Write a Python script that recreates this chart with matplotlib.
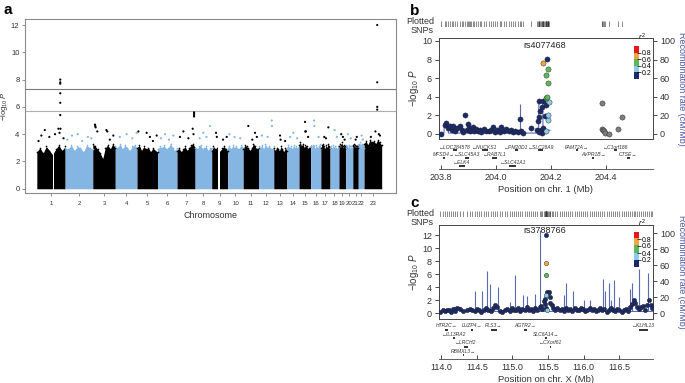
import numpy as np
import matplotlib
matplotlib.use("Agg")
import matplotlib.pyplot as plt

plt.rcParams['font.family'] = ['Liberation Sans', 'DejaVu Sans']
plt.rcParams['mathtext.fontset'] = 'custom'
plt.rcParams['mathtext.rm'] = 'Liberation Sans'
plt.rcParams['mathtext.it'] = 'Liberation Sans:italic'

# ---------------- Panel a : Manhattan plot ----------------
chrom_labels = [str(i) for i in range(1, 24)]
chrom_len_mb = [249, 243, 198, 191, 181, 171, 159, 146, 141, 136, 135, 134,
                115, 107, 102, 90, 81, 78, 59, 63, 48, 51, 155]
body_top = [
    [2.7, 3.0, 2.6, 3.1, 2.8, 2.5, 2.9, 3.2, 2.8, 3.1],
    [3.0, 2.9, 3.2, 2.8, 3.1, 3.0, 2.7, 3.2, 3.0, 2.9],
    [3.3, 3.1, 2.9, 2.6, 2.2, 3.0, 3.2, 2.9, 3.3, 3.0],
    [3.1, 3.0, 3.3, 2.9, 3.2, 3.0, 2.8, 3.1, 3.2, 3.0],
    [3.0, 3.2, 2.8, 3.1, 2.9, 3.0, 2.7, 3.0, 2.8, 2.7],
    [2.9, 3.1, 3.0, 3.2, 2.9, 3.0, 3.3, 3.0, 2.8, 3.0],
    [2.8, 3.0, 2.7, 2.9, 3.1, 2.8, 3.0, 3.2, 3.3, 3.0],
    [3.0, 2.9, 3.1, 3.2, 2.9, 3.0, 3.1, 2.8, 3.0, 3.0],
    [2.8, 3.1, 2.9, 3.0, 2.7, 2.8, 3.0, 3.1, 2.9, 2.8],
    [3.0, 3.1, 2.9, 3.2, 3.0, 3.1, 2.9, 3.0, 3.2, 3.0],
    [2.9, 3.2, 3.1, 3.0, 2.8, 3.0, 3.3, 3.1, 2.9, 3.0],
    [3.1, 3.0, 3.2, 2.9, 3.3, 3.0, 3.1, 3.0, 2.9, 3.1],
    [3.0, 2.8, 3.0, 2.9, 2.8, 3.1, 2.9, 2.7, 3.0, 2.8],
    [3.0, 3.2, 3.0, 3.1, 2.9, 3.2, 3.0, 3.1, 3.0, 3.2],
    [3.2, 3.4, 3.1, 3.3, 3.0, 3.2, 3.1, 2.9, 3.0, 3.1],
    [3.1, 3.0, 3.2, 3.1, 2.9, 3.2, 3.0, 3.1, 3.3, 3.0],
    [3.0, 3.2, 3.3, 3.1, 2.9, 3.2, 3.0, 3.3, 3.1, 3.0],
    [3.0, 3.1, 2.9, 3.2, 3.0, 3.1, 3.0, 2.9, 3.1, 3.0],
    [3.1, 3.3, 3.0, 3.2, 3.4, 3.1, 3.0, 3.2, 3.1, 3.0],
    [3.0, 3.2, 3.1, 3.0, 3.2, 3.1, 2.9, 3.1, 3.0, 3.1],
    [3.2, 3.1, 3.3, 3.0, 3.2, 3.1, 3.0, 3.1, 3.2, 3.0],
    [3.2, 3.3, 3.1, 3.4, 3.2, 3.0, 3.3, 3.2, 3.1, 3.0],
    [3.3, 3.5, 3.2, 3.6, 3.4, 3.5, 3.3, 3.6, 3.4, 3.2],
]
gap_chr = [1, 9]
gap_start = [140, 58]
gap_end = [147, 72]

hit_chr = [1, 1, 1, 1, 1, 1, 1, 1, 1, 1, 1, 1, 1, 1, 1,
           2, 2, 2, 2, 2, 2,
           3, 3, 3, 3, 3, 3, 3, 3,
           4, 4, 4, 4,
           5, 5, 5, 5, 5,
           6, 6, 6, 6,
           7, 7, 7, 7, 7, 7, 7, 7, 7,
           8, 8, 8, 8,
           9, 9, 9, 9,
           10, 10, 10,
           11, 11, 11, 11,
           12, 12, 12, 12,
           13, 13, 13,
           14, 14, 14,
           15, 15, 15, 15,
           16, 16, 16,
           17, 17, 17,
           18, 18,
           19, 19, 19,
           20, 20,
           21, 21,
           22, 22,
           23, 23, 23, 23, 23, 23, 23, 23]
hit_pos = [15, 40, 70, 110, 160, 190, 200, 206, 206, 206, 206, 206, 206, 208, 235,
           20, 60, 110, 150, 200, 230,
           20, 22, 25, 40, 120, 128, 181, 150,
           40, 100, 188, 150,
           12, 85, 114, 173, 140,
           30, 66, 139, 100,
           26, 56, 100, 138, 145, 150, 150, 150, 150,
           40, 72, 131, 100,
           38, 45, 100, 132,
           15, 60, 110,
           45, 104, 120, 80,
           30, 116, 118, 80,
           55, 60, 100,
           57, 30, 90,
           53, 55, 60, 80,
           30, 33, 70,
           66, 30, 45,
           40, 60,
           20, 35, 50,
           20, 45,
           25, 35,
           30, 40,
           116, 116, 116, 116, 60, 100, 130, 140]
hit_logp = [3.5, 3.9, 4.3, 3.8, 4.0, 4.4, 4.1, 8.0, 7.8, 7.7, 7.0, 6.3, 5.4, 4.4, 3.7,
            3.6, 3.9, 4.0, 3.5, 3.8, 3.7,
            4.7, 4.6, 4.5, 4.2, 4.3, 4.2, 3.9, 3.6,
            3.8, 4.0, 4.1, 3.7,
            4.2, 4.1, 3.8, 3.9, 3.5,
            3.7, 4.0, 3.9, 3.6,
            3.8, 4.2, 3.7, 4.4, 4.0, 5.6, 5.5, 5.4, 5.3,
            3.7, 4.1, 4.6, 3.8,
            4.1, 3.8, 3.6, 3.8,
            4.0, 3.8, 3.7,
            4.6, 4.1, 3.8, 3.6,
            3.9, 5.0, 4.6, 3.8,
            3.9, 3.6, 3.5,
            4.1, 3.8, 3.7,
            4.9, 4.2, 4.2, 3.8,
            5.0, 4.6, 3.8,
            4.5, 3.8, 3.7,
            4.3, 3.8,
            4.0, 3.8, 3.6,
            4.0, 3.7,
            3.6, 3.8,
            3.9, 3.6,
            12.0, 7.8, 6.0, 5.8, 3.8, 4.2, 4.0, 3.9]
genome_wide_line = 7.3
suggestive_line = 5.7

# ---------------- Panel b : locus chr1 ----------------
b_navy_pos = [203.802, 203.814, 203.820, 203.827, 203.833, 203.839, 203.845, 203.851, 203.857, 203.869,
              203.875, 203.881, 203.887, 203.893, 203.899, 203.902, 203.905, 203.911, 203.917, 203.920,
              203.929, 203.935, 203.941, 203.947, 203.955, 203.965, 203.975, 203.983, 203.989, 203.998,
              204.005, 204.013, 204.019, 204.028, 204.037, 204.046, 204.053, 204.061, 204.071, 204.080,
              204.086, 204.092, 204.100, 204.128,
              204.148, 204.152, 204.155, 204.158, 204.162, 204.164, 204.166, 204.168, 204.170, 204.176,
              204.178, 204.182, 204.158, 204.172, 204.186]
b_navy_logp = [0.0, 1.0, 1.18, 0.64, 0.82, 0.46, 0.9, 0.29, 0.64, 0.82,
               0.46, 0.18, 2.07, 0.46, 1.07, 0.64, 0.36, 0.46, 0.75, 0.29,
               0.54, 0.36, 0.46, 0.21, 0.54, 0.36, 0.29, 0.46, 0.71, 0.21,
               0.46, 0.18, 0.71, 0.36, 0.54, 0.29, 0.46, 0.18, 0.36, 0.21,
               1.6, 0.29, 0.1, 0.64,
               0.46, 1.36, 1.82, 3.5, 2.43, 0.46, 0.1, 2.9, 0.64, 0.29,
               1.9, 3.14, 0.18, 3.5, 8.04]
b_lblue_pos = [204.192, 204.190, 204.188, 204.183]
b_lblue_logp = [3.4, 1.46, 2.0, 0.3]
b_green_pos = [204.189, 204.182, 204.188, 204.182, 204.187]
b_green_logp = [6.96, 6.36, 5.46, 3.86, 3.93]
b_orange_pos = [204.172]
b_orange_logp = [7.68]
b_gray_pos = [204.387, 204.387, 204.390, 204.393, 204.396, 204.411, 204.445, 204.457]
b_gray_logp = [3.32, 0.54, 0.39, 0.29, 0.1, 0.04, 0.54, 1.82]
b_rec_pos = [203.797, 203.811, 203.812, 203.826, 203.827, 204.155, 204.156, 204.170, 204.171, 204.196]
b_rec_rate = [1, 1, 9, 9, 1, 1, 36, 36, 4, 4]
b_spike_pos = [204.086]
b_spike_rate = [32]
b_lead = 'rs4077468'
b_ticks = [203.8, 204.0, 204.2, 204.4]
b_gene_names = ['LOC284578', 'NUCKS1', 'PM20D1', 'SLC26A9', 'FAM72A', 'C1orf186',
                'MFSD4', 'SLC45A3', 'RAB7L1', 'AVPR1B', 'CTSE', 'ELK4', 'SLC41A1']
b_gene_strand = [-1, -1, -1, -1, 1, -1, 1, -1, -1, 1, 1, -1, -1]
b_gene_row = [0, 0, 0, 0, 0, 0, 1, 1, 1, 1, 1, 2, 2]
b_gene_start = [203.845, 203.950, 204.068, 204.154, 204.290, 204.428, 203.806, 203.888,
                203.987, 204.350, 204.475, 203.866, 204.048]
b_gene_end = [203.858, 203.970, 204.082, 204.172, 204.297, 204.440, 203.816, 203.902,
              204.004, 204.358, 204.487, 203.886, 204.074]

# ---------------- Panel c : locus chrX ----------------
c_navy_pos = [113.99, 114.02, 114.05, 114.08, 114.11, 114.14, 114.16, 114.19, 114.22, 114.26,
              114.30, 114.36, 114.40, 114.43, 114.47, 114.50, 114.53, 114.56, 114.60, 114.63,
              114.66, 114.70, 114.73, 114.76, 114.78, 114.82, 114.86, 114.90, 114.93, 114.96,
              114.99, 115.02, 115.05, 115.08, 115.11, 115.14, 115.17, 115.20, 115.23, 115.26,
              115.29, 115.32, 115.35, 115.38, 115.40, 115.42, 115.44, 115.45, 115.46, 115.47,
              115.49, 115.50, 115.51, 115.52, 115.53, 115.55, 115.57, 115.60, 115.63, 115.66,
              115.69, 115.72, 115.75, 115.78, 115.81, 115.84, 115.87, 115.90, 115.93, 115.96,
              115.99, 116.02, 116.05, 116.08, 116.11, 116.14, 116.17, 116.20, 116.23, 116.26,
              116.29, 116.32, 116.35, 116.38, 116.41, 116.44, 116.47, 116.50, 116.53, 116.56,
              116.59, 116.62, 116.65, 116.68, 116.70, 116.72, 116.74, 116.77, 116.80, 116.83,
              116.86, 116.89, 116.92, 116.94, 116.96, 115.477]
c_navy_logp = [0.2, 0.4, 0.3, 0.5, 0.4, 0.2, 0.6, 0.3, 0.7, 0.6,
               0.3, 0.5, 0.6, 0.4, 0.3, 0.6, 0.5, 0.2, 0.5, 0.7,
               0.4, 0.3, 0.8, 1.3, 1.0, 0.3, 0.2, 0.5, 0.6, 0.3,
               0.7, 0.5, 0.4, 0.8, 0.3, 0.6, 0.5, 0.9, 0.4, 0.6,
               0.3, 0.7, 0.5, 0.9, 1.1, 0.6, 1.8, 2.2, 1.4, 0.8,
               3.3, 3.1, 3.2, 2.4, 1.6, 1.2, 0.8, 0.5, 0.7, 0.4,
               0.6, 0.3, 0.8, 0.5, 0.6, 0.3, 0.7, 0.5, 0.4, 0.8,
               0.6, 0.3, 0.5, 0.7, 0.4, 0.6, 0.3, 0.5, 0.8, 0.4,
               0.6, 0.2, 0.5, 0.7, 0.4, 0.3, 0.6, 0.5, 0.2, 0.4,
               0.6, 0.3, 0.9, 1.4, 2.0, 1.6, 1.0, 0.6, 0.9, 1.1,
               0.5, 1.2, 2.0, 1.3, 0.7, 12.0]
c_lblue_pos = [115.470, 115.485]
c_lblue_logp = [2.8, 0.5]
c_green_pos = [115.477]
c_green_logp = [5.85]
c_orange_pos = [115.477]
c_orange_logp = [7.76]
c_rec_pos = [113.98, 114.18, 114.185, 114.27, 114.275, 116.97]
c_rec_rate = [2, 2, 7, 7, 2, 2]
c_spike_pos = [114.47, 114.57, 114.64, 114.68, 114.80, 114.97, 115.04, 115.15, 115.20, 115.32,
               115.39, 115.72, 115.75, 115.85, 116.00, 116.08, 116.27, 116.30, 116.35, 116.38,
               116.42, 116.50, 116.65, 116.68, 116.77, 116.90]
c_spike_rate = [27, 28, 53, 36, 33, 14, 47, 23, 21, 24,
                104, 23, 37, 27, 16, 16, 42, 27, 37, 16,
                41, 20, 30, 37, 55, 50]
c_lead = 'rs3788766'
c_ticks = [114.0, 114.5, 115.0, 115.5, 116.0, 116.5]
c_gene_names = ['HTR2C', 'LUZP4', 'PLS3', 'AGTR2', 'KLHL13', 'IL13RA2', 'SLC6A14',
                'LRCH2', 'CXorf61', 'RBMXL3']
c_gene_strand = [1, 1, 1, 1, -1, -1, 1, -1, -1, 1]
c_gene_row = [0, 0, 0, 0, 0, 1, 1, 2, 2, 3]
c_gene_start = [114.05, 114.42, 114.70, 115.16, 116.78, 114.17, 115.45, 114.32, 115.52, 114.30]
c_gene_end = [114.10, 114.45, 114.78, 115.20, 116.90, 114.19, 115.48, 114.38, 115.54, 114.32]

ld_labels = ['0.2', '0.4', '0.6', '0.8']

# ---------------- styling ----------------
BLACK = '#000000'
BLUE = '#85b6e3'
NAVY = '#1b2a6b'
LBLUE = '#8ccbea'
GREEN = '#5cb85c'
ORANGE = '#f2a541'
RED = '#e31a1c'
GRAY = '#7d7d7d'
REC = '#5a6ab4'
ld_colors = [NAVY, LBLUE, GREEN, ORANGE, RED]

W, H = 685, 383
fig = plt.figure(figsize=(6.85, 3.83), dpi=100)


def rect(x0, y0, x1, y1):
    return [x0 / W, 1 - y1 / H, (x1 - x0) / W, (y1 - y0) / H]


# ----- panel a -----
axa = fig.add_axes(rect(25, 19, 396, 193))
cum = np.concatenate([[0], np.cumsum(chrom_len_mb)[:-1]])
centers = cum + np.array(chrom_len_mb) / 2.0
for i, (L, h) in enumerate(zip(chrom_len_mb, body_top)):
    col = BLACK if i % 2 == 0 else BLUE
    x = cum[i] + np.linspace(0, L, len(h))
    axa.fill_between(x, 0, h, color=col, lw=0, zorder=2)
    axa.scatter(x, h, s=1.5, color=col, lw=0, zorder=3)
for c, s, e in zip(gap_chr, gap_start, gap_end):
    axa.fill_between([cum[c - 1] + s, cum[c - 1] + e], -0.2, 4.0, color='white', lw=0, zorder=4)
hx = np.array([cum[c - 1] + p for c, p in zip(hit_chr, hit_pos)])
hc = [BLACK if c % 2 == 1 else BLUE for c in hit_chr]
axa.scatter(hx, hit_logp, s=2.5, c=hc, lw=0, zorder=5)
axa.axhline(genome_wide_line, color='#7a7a7a', lw=0.8, zorder=1)
axa.axhline(suggestive_line, color='#b0b0b0', lw=0.8, zorder=1)
axa.set_xlim(-104, 3159)
axa.set_ylim(-0.31, 12.44)
axa.set_xticks(centers)
axa.set_xticklabels(chrom_labels, fontsize=4.4)
axa.set_yticks([0, 2, 4, 6, 8, 10, 12])
axa.tick_params(axis='both', labelsize=5.5, length=2, width=0.5, color='#666', pad=2, labelcolor='#333')
axa.tick_params(axis='x', labelsize=4.4, pad=4)
for sp in axa.spines.values():
    sp.set_color('#8a8a8a')
    sp.set_linewidth(0.8)
axa.set_xlabel('Chromosome', fontsize=6.5, labelpad=3, color='#333')
axa.set_ylabel(r'$-$log$_{10}$ $P$', fontsize=5.5, labelpad=1, color='#333')

fig.text(3 / W, 1 - 10 / H, 'a', fontsize=11, fontweight='bold', va='center', ha='left')
fig.text(410 / W, 1 - 11 / H, 'b', fontsize=11, fontweight='bold', va='center', ha='left')
fig.text(410 / W, 1 - 203 / H, 'c', fontsize=11, fontweight='bold', va='center', ha='left')


def locus(box, genebox, rugbox, cbbox, xlim, ylim, ratio, yticks, groups, rec_pos, rec_rate,
          spike_pos, spike_rate, lead, lead_xy, ticks, xlabel, genes, rows_y, label_y, msize):
    ax = fig.add_axes(rect(*box))
    ax2 = ax.twinx()
    ax.set_zorder(ax2.get_zorder() + 1)
    ax.patch.set_visible(False)
    # recombination
    ax2.plot(rec_pos, rec_rate, color=REC, lw=0.8)
    ax2.vlines(spike_pos, rec_rate[-1], spike_rate, color=REC, lw=0.8)
    ax2.set_ylim(ylim[0] * ratio, ylim[1] * ratio)
    ax2.set_yticks([0, 20, 40, 60, 80, 100])
    ax2.tick_params(labelsize=6.5, length=3, width=0.5, pad=2, labelcolor='#333')
    ax2.set_ylabel('Recombination rate (cM/Mb)', rotation=270, fontsize=6.5,
                   color='#4a58a0', labelpad=8)
    # points
    all_pos = []
    for pos, lp, col in groups:
        ax.scatter(pos, lp, s=msize, color=col, edgecolor='#222', lw=0.3, zorder=3)
        all_pos += list(pos)
    ax.set_xlim(*xlim)
    ax.set_ylim(*ylim)
    ax.set_xticks([])
    ax.set_yticks(yticks)
    ax.tick_params(labelsize=6.5, length=3, width=0.5, pad=2, labelcolor='#333')
    ax.set_ylabel(r'$-$log$_{10}$ $P$', fontsize=7, labelpad=1, color='#333')
    for a in (ax, ax2):
        for sp in a.spines.values():
            sp.set_linewidth(0.6)
            sp.set_color('#444')
    ax.text(lead_xy[0], lead_xy[1], lead, fontsize=6.5, ha='center', va='center', color='#222')
    # gene track
    ag = fig.add_axes(rect(*genebox))
    ag.set_xlim(*xlim)
    ag.set_ylim(0, 1)
    for k in ('top', 'left', 'right'):
        ag.spines[k].set_visible(False)
    ag.spines['bottom'].set_linewidth(0.6)
    ag.spines['bottom'].set_color('#444')
    ag.set_yticks([])
    ag.set_xticks(ticks)
    ag.set_xticklabels([f'{t:.1f}' for t in ticks])
    ag.tick_params(axis='x', labelsize=6.5, length=3, width=0.5, direction='in', pad=3,
                   labelcolor='#333')
    ag.set_xlabel(xlabel, fontsize=6.8, labelpad=2, color='#333')
    names, strand, row, gs, ge = genes
    for n, st, r, s0, e0 in zip(names, strand, row, gs, ge):
        y = rows_y[r]
        lbl = (n + '\u2192') if st > 0 else ('\u2190' + n)
        ag.text((s0 + e0) / 2, y, lbl, fontsize=3.6, style='italic', ha='center', va='center',
                color='#333')
        ag.plot([s0, e0], [y - 0.11, y - 0.11], color='#222', lw=1.3, solid_capstyle='butt')
    # rug
    ar = fig.add_axes(rect(*rugbox))
    ar.set_xlim(*xlim)
    ar.set_ylim(0, 1)
    ar.axis('off')
    ar.vlines(all_pos, 0, 1, color='#333', lw=0.4)
    fig.text(434 / W, 1 - label_y / H, 'Plotted\nSNPs', fontsize=6.5, ha='right', va='center',
             linespacing=1.0, color='#333')
    # LD legend
    ac = fig.add_axes(rect(*cbbox))
    ac.imshow(np.arange(5)[::-1].reshape(5, 1), cmap=matplotlib.colors.ListedColormap(ld_colors),
              aspect='auto', extent=[0, 1, 0, 1], interpolation='nearest')
    ac.set_xticks([])
    ac.yaxis.tick_right()
    ac.set_yticks([0.2, 0.4, 0.6, 0.8])
    ac.set_yticklabels(ld_labels)
    ac.tick_params(axis='y', labelsize=5, length=2.5, width=0.5, pad=1, direction='inout')
    for sp in ac.spines.values():
        sp.set_visible(False)
    ac.text(0.9, 1.08, r'$r^2$', fontsize=5.5, transform=ac.transAxes, ha='left', va='bottom')
    return ax


locus(box=(439, 38, 653, 139), genebox=(439, 141, 653, 169), rugbox=(439, 21, 653, 27),
      cbbox=(634, 46, 639, 79), xlim=(203.793, 204.571), ylim=(-0.54, 10.32), ratio=10.0,
      yticks=[0, 2, 4, 6, 8, 10],
      groups=[(b_navy_pos, b_navy_logp, NAVY), (b_gray_pos, b_gray_logp, GRAY),
              (b_lblue_pos, b_lblue_logp, LBLUE), (b_green_pos, b_green_logp, GREEN),
              (b_orange_pos, b_orange_logp, ORANGE)],
      rec_pos=b_rec_pos, rec_rate=b_rec_rate, spike_pos=b_spike_pos, spike_rate=b_spike_rate,
      lead=b_lead, lead_xy=(204.176, 9.55), ticks=b_ticks, xlabel='Position on chr. 1 (Mb)',
      genes=(b_gene_names, b_gene_strand, b_gene_row, b_gene_start, b_gene_end),
      rows_y=[0.78, 0.50, 0.22], label_y=26, msize=14)

locus(box=(439, 225, 653, 319), genebox=(439, 320, 653, 359), rugbox=(439, 211, 653, 217),
      cbbox=(634, 232, 639, 267), xlim=(113.97, 116.97), ylim=(-0.92, 13.54), ratio=8.13,
      yticks=[0, 2, 4, 6, 8, 10, 12],
      groups=[(c_navy_pos, c_navy_logp, NAVY), (c_lblue_pos, c_lblue_logp, LBLUE),
              (c_green_pos, c_green_logp, GREEN), (c_orange_pos, c_orange_logp, ORANGE)],
      rec_pos=c_rec_pos, rec_rate=c_rec_rate, spike_pos=c_spike_pos, spike_rate=c_spike_rate,
      lead=c_lead, lead_xy=(115.45, 12.75), ticks=c_ticks, xlabel='Position on chr. X (Mb)',
      genes=(c_gene_names, c_gene_strand, c_gene_row, c_gene_start, c_gene_end),
      rows_y=[0.86, 0.64, 0.42, 0.20], label_y=218, msize=10)

fig.savefig('out.png', dpi=100)
